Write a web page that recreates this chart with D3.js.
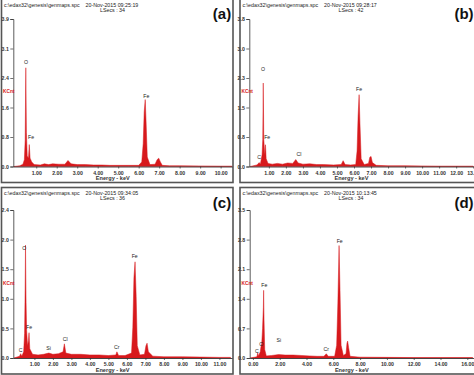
<!DOCTYPE html>
<html>
<head>
<meta charset="utf-8">
<script src="https://cdn.jsdelivr.net/npm/d3@7"></script>
<style>
  body { margin: 0; background: #fff; }
  text { font-family: "Liberation Sans", Arial, sans-serif; }
</style>
</head>
<body>
<svg id="chart" width="474" height="375"></svg>
<script>
// ---- data ----
var letters = ["(a)", "(b)", "(c)", "(d)"];
var stamps = ["20-Nov-2015 09:25:19", "20-Nov-2015 09:28:17",
              "20-Nov-2015 09:34:05", "20-Nov-2015 10:13:45"];
var lsecs = [34, 42, 36, 34];
var yMax = [3.9, 3.8, 2.4, 3.5];
var yTickLabels = [["0.0", "0.8", "1.6", "2.4", "3.1", "3.9"],
                   ["0.0", "0.8", "1.5", "2.3", "3.0", "3.8"],
                   ["0.0", "0.5", "1.0", "1.5", "2.0", "2.4"],
                   ["0.0", "0.7", "1.4", "2.1", "2.8", "3.5"]];
var xDomains = [[-0.12, 10.57], [-0.15, 13.03], [-0.14, 11.68], [-0.24, 16.5]];
var xTicks = [[1, 2, 3, 4, 5, 6, 7, 8, 9, 10],
              [1, 2, 3, 4, 5, 6, 7, 8, 9, 10, 11, 12, 13],
              [1, 2, 3, 4, 5, 6, 7, 8, 9, 10, 11],
              [0, 2, 4, 6, 8, 10, 12, 14, 16]];

// [keV, kcnt]
var specA = [[-0.1,0],[0.2,0.02],[0.35,0.06],[0.42,0.18],[0.46,0.7],[0.49,2.61],[0.52,0.9],
  [0.56,0.28],[0.62,0.22],[0.66,0.58],[0.7,0.22],[0.78,0.12],[0.9,0.05],[1.2,0.04],[1.4,0.07],
  [1.6,0.05],[1.8,0.07],[2.1,0.06],[2.4,0.06],[2.55,0.16],[2.7,0.07],[3.0,0.05],[3.4,0.05],
  [3.8,0.04],[4.2,0.04],[4.6,0.03],[5.0,0.03],[5.5,0.03],[6.0,0.03],[6.15,0.12],[6.22,0.6],
  [6.27,1.45],[6.32,1.77],[6.36,1.2],[6.42,0.25],[6.55,0.05],[6.8,0.06],[6.9,0.18],[6.98,0.22],
  [7.06,0.12],[7.15,0.03],[7.5,0.02],[8,0.02],[9,0.015],[10,0.01],[10.55,0.01]];
var specB = [[-0.1,0],[0.3,0.04],[0.43,0.1],[0.5,0.06],[0.6,0.3],[0.64,0.69],[0.67,2.15],
  [0.7,0.7],[0.76,0.3],[0.8,0.56],[0.84,0.2],[0.95,0.08],[1.2,0.06],[1.5,0.08],[1.8,0.06],
  [2.1,0.09],[2.4,0.08],[2.58,0.18],[2.72,0.09],[3.0,0.06],[3.4,0.07],[3.8,0.05],[4.2,0.05],
  [4.8,0.04],[5.25,0.05],[5.36,0.15],[5.48,0.05],[5.8,0.04],[6.1,0.05],[6.18,0.4],[6.24,1.3],
  [6.3,1.85],[6.35,1.1],[6.42,0.2],[6.6,0.05],[6.85,0.08],[6.93,0.24],[7.0,0.26],[7.08,0.1],
  [7.3,0.03],[8,0.02],[9,0.02],[10,0.015],[11,0.01],[12,0.01],[13,0.01]];
var specC = [[-0.1,0],[0.2,0.03],[0.26,0.07],[0.32,0.03],[0.42,0.1],[0.47,0.4],[0.5,1.1],
  [0.52,1.83],[0.55,0.9],[0.58,0.45],[0.63,0.2],[0.68,0.28],[0.71,0.41],[0.75,0.15],[0.9,0.06],
  [1.2,0.05],[1.5,0.06],[1.78,0.08],[2.0,0.06],[2.3,0.07],[2.55,0.1],[2.62,0.23],[2.7,0.08],
  [3.0,0.06],[3.5,0.06],[4.0,0.05],[4.5,0.05],[5.0,0.04],[5.4,0.05],[5.46,0.1],[5.55,0.04],
  [5.9,0.04],[6.25,0.08],[6.32,0.5],[6.38,1.3],[6.44,1.56],[6.5,1.0],[6.56,0.2],[6.7,0.05],
  [6.95,0.06],[7.03,0.2],[7.09,0.24],[7.16,0.1],[7.4,0.03],[8,0.02],[9,0.02],[10,0.015],
  [11,0.01],[11.6,0.01]];
var specD = [[-0.2,0],[0.3,0.03],[0.36,0.12],[0.42,0.05],[0.55,0.15],[0.6,0.26],[0.66,0.35],
  [0.72,0.7],[0.78,1.2],[0.8,1.6],[0.83,0.9],[0.88,0.2],[1.0,0.05],[1.4,0.06],[1.92,0.08],
  [2.4,0.07],[3.0,0.07],[3.6,0.06],[4.2,0.05],[4.8,0.04],[5.3,0.04],[5.48,0.1],[5.62,0.04],
  [6.1,0.04],[6.25,0.3],[6.34,1.3],[6.43,2.66],[6.5,1.6],[6.58,0.3],[6.75,0.06],[6.95,0.1],
  [7.02,0.35],[7.07,0.4],[7.14,0.25],[7.25,0.04],[8,0.02],[10,0.015],[12,0.01],[14,0.01],[16.4,0.01]];

// element labels: [name, keV at label centre, kcnt at label baseline]
var peaksA = [["O", 0.5, 2.72], ["Fe", 0.75, 0.72], ["Fe", 6.37, 1.8]];
var peaksB = [["C", 0.43, 0.19], ["O", 0.66, 2.45], ["Fe", 0.9, 0.7], ["Cl", 2.76, 0.27], ["Fe", 6.3, 1.94]];
var peaksC = [["C", 0.26, 0.1], ["O", 0.45, 1.75], ["Fe", 0.71, 0.47], ["Si", 1.77, 0.13],
              ["Cl", 2.67, 0.27], ["Cr", 5.45, 0.15], ["Fe", 6.42, 1.62]];
var peaksD = [["C", 0.3, 0.12], ["O", 0.62, 0.28], ["Fe", 0.85, 1.69], ["Si", 1.93, 0.39],
              ["Cr", 5.48, 0.17], ["Fe", 6.48, 2.73]];

var spectra = [specA, specB, specC, specD];
var peaks = [peaksA, peaksB, peaksC, peaksD];

// ---- layout ----
var frames = [[1.5, -1, 233, 182.5], [240, -1, 475, 182.5],
              [1.5, 187.5, 233, 374], [240, 187.5, 475, 374]];
var boxes = [[13.3, 232.3, 19, 166.5], [249.3, 473.7, 19, 166.5],
             [13.3, 232, 210, 358], [249.7, 474, 210, 358]];
var red = "#d7191c";

var svg = d3.select("#chart");

frames.forEach(function(f, i) {
    var b = boxes[i], fx = f[0], fy = f[1];
    var g = svg.append("g");

    g.append("rect")
        .attr("x", f[0]).attr("y", f[1])
        .attr("width", f[2] - f[0]).attr("height", f[3] - f[1])
        .attr("fill", "#fff").attr("stroke", "#555").attr("stroke-width", 1.6);

    var x = d3.scaleLinear().domain(xDomains[i]).range([b[0], b[1]]);
    var y = d3.scaleLinear().domain([0, yMax[i]]).range([b[3], b[2]]);

    // header
    g.append("text").attr("x", fx + 2.5).attr("y", fy + 7.5)
        .attr("font-size", 5.3).attr("fill", "#222")
        .attr("xml:space", "preserve")
        .text("c:\\edax32\\genesis\\genmaps.spc    " + stamps[i]);
    g.append("text").attr("x", fx + 111).attr("y", fy + 12.5)
        .attr("font-size", 5.3).attr("fill", "#222").attr("text-anchor", "middle")
        .text("LSecs : " + lsecs[i]);
    g.append("text").attr("x", f[2] - 11).attr("y", fy + 20)
        .attr("font-size", 15).attr("font-weight", "bold").attr("text-anchor", "middle")
        .attr("fill", "#111").text(letters[i]);

    // spectrum
    var area = d3.area()
        .x(function(d) { return x(d[0]); })
        .y0(y(0))
        .y1(function(d) { return y(d[1]); });
    g.append("path").datum(spectra[i])
        .attr("d", area).attr("fill", red).attr("stroke", red).attr("stroke-width", 0.5);

    // axes
    var yTicks = d3.range(6).map(function(k) { return yMax[i] * k / 5; });
    var ya = d3.axisLeft(y).tickValues(yTicks)
        .tickFormat(function(d, k) { return yTickLabels[i][k]; })
        .tickSize(3).tickPadding(1.5);
    var yg = g.append("g").attr("transform", "translate(" + b[0] + ",0)").call(ya);
    yg.select(".domain").attr("stroke", "#333").attr("stroke-width", 0.8);
    yg.selectAll(".tick line").attr("stroke", "#333").attr("stroke-width", 0.7);
    yg.selectAll("text").attr("font-size", 5.2).attr("font-weight", "bold").attr("fill", "#333");

    var xa = d3.axisBottom(x).tickValues(xTicks[i])
        .tickFormat(d3.format(".2f")).tickSize(2).tickPadding(2.5).tickSizeOuter(0);
    var xg = g.append("g").attr("transform", "translate(0," + b[3] + ")").call(xa);
    xg.select(".domain").attr("stroke", "#333").attr("stroke-width", 0.9);
    xg.selectAll(".tick line").attr("stroke", "#333").attr("stroke-width", 0.7);
    xg.selectAll("text").attr("font-size", 5.2).attr("font-weight", "bold").attr("fill", "#333");

    g.append("text").attr("x", (b[0] + b[1]) / 2 - 10).attr("y", b[3] + 13.5)
        .attr("font-size", 5.6).attr("font-weight", "bold").attr("fill", "#333")
        .attr("text-anchor", "middle").text("Energy - keV");

    g.append("text").attr("x", fx + 1.5).attr("y", y(yMax[i] * 0.51) + 2)
        .attr("font-size", 4.8).attr("font-weight", "bold").attr("fill", red)
        .text("KCnt");

    // element labels
    g.selectAll("text.el").data(peaks[i]).enter().append("text")
        .attr("class", "el")
        .attr("x", function(d) { return x(d[1]); })
        .attr("y", function(d) { return y(d[2]); })
        .attr("font-size", 5.2).attr("fill", "#222")
        .attr("text-anchor", "middle")
        .text(function(d) { return d[0]; });
});
</script>
</body>
</html>
